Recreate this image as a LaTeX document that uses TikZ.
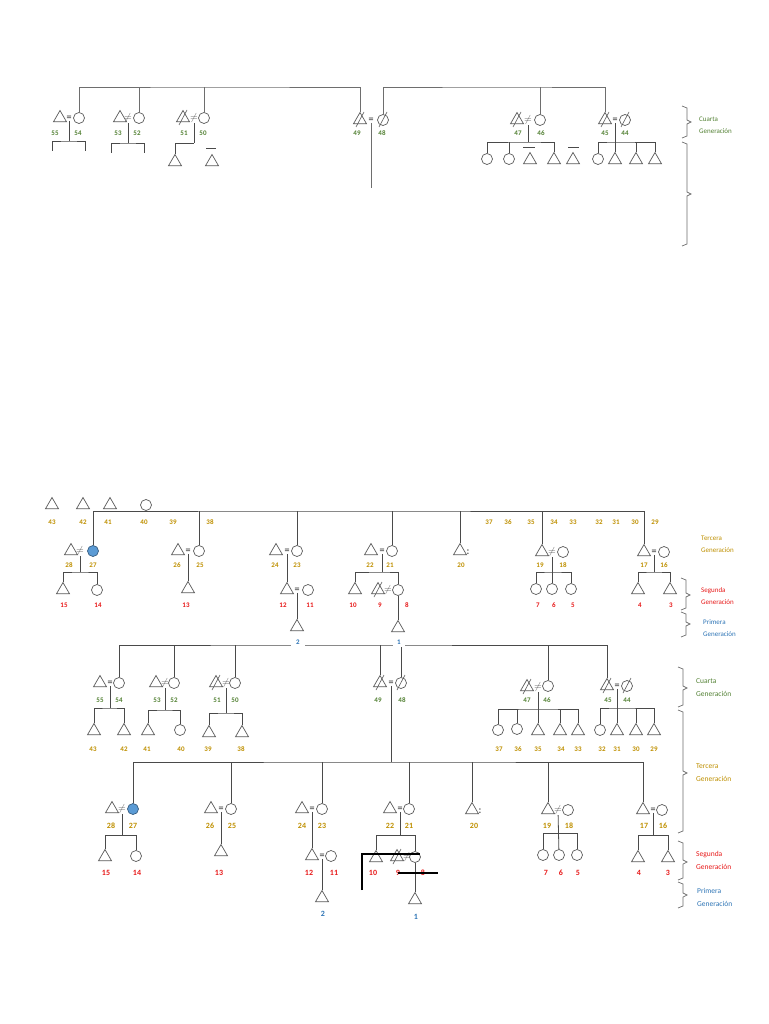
\documentclass[tikz,border=0pt]{standalone}
\usepackage{fontspec}
\setmainfont{Carlito}
\usetikzlibrary{positioning, shapes.geometric, backgrounds}

\definecolor{gen4}{HTML}{548235}
\definecolor{gen3}{HTML}{BF9000}
\definecolor{gen2}{HTML}{E81A1A}
\definecolor{gen1}{HTML}{2E75B6}
\definecolor{symc}{HTML}{5A5A5A}
\definecolor{linc}{HTML}{4A4A4A}
\definecolor{fillb}{HTML}{5B9BD5}

\newcommand\deadmark[1]{\draw[sym] ([shift={(-4,7)}]#1.center) -- ([shift={(4,-8)}]#1.center);}
\newcommand\genbrace[4]{\draw[brc] (#1-5,#2) -- (#1,#2+2) -- (#1,#4-2) -- (#1+4,#4) -- (#1,#4+2) -- (#1,#3-2) -- (#1-5,#3);}

\begin{document}
\begin{tikzpicture}[
  x=1pt, y=-1pt,
  male/.style={regular polygon, regular polygon sides=3, draw=symc, line width=0.7pt, minimum size=15pt, inner sep=0pt},
  fem/.style={circle, draw=symc, line width=0.7pt, minimum size=11pt, inner sep=0pt},
  eqs/.style={inner sep=0.4pt, text=symc, font=\fontsize{10}{10}\selectfont\bfseries},
  num/.style={inner sep=0.5pt, font=\fontsize{7}{8}\selectfont\bfseries},
  numl/.style={inner sep=0.5pt, font=\fontsize{8}{9}\selectfont\bfseries},
  genl/.style={anchor=west, align=left, inner sep=0pt, font=\fontsize{7}{12}\selectfont},
  ln/.style={draw=linc, line width=0.8pt},
  tl/.style={draw=linc!80, line width=0.7pt},
  sym/.style={draw=symc, line width=0.6pt},
  brc/.style={draw=linc!80, line width=0.7pt},
  mk/.style={draw=black, line width=1.1pt},
]
\begin{scope}[on background layer]
  \fill[white] (0,0) rectangle (768,1024);
\end{scope}
\useasboundingbox (0,0) rectangle (768,1024);

% === TOP: fourth generation ===
\node[male] (ma55) at (60,118) {};
\node[eqs] (ea55) at (69,118) {=};
\node[fem] (fa54) at (79,118) {};
\node[male] (ma53) at (120,118) {};
\node[eqs] (ea53) at (128,118) {$\neq$};
\node[fem] (fa52) at (139,118) {};
\node[male] (ma51) at (183,118) {};
\node[eqs] (ea51) at (194,118) {$\neq$};
\node[fem] (fa50) at (204,118) {};
\node[male] (ma49) at (360,120) {};
\node[eqs] (ea49) at (371,120) {=};
\node[fem] (fa48) at (383,120) {};
\node[male] (ma47) at (517,120) {};
\node[eqs] (ea47) at (528,120) {$\neq$};
\node[fem] (fa46) at (540,120) {};
\node[male] (ma45) at (605,120) {};
\node[eqs] (ea45) at (615,120) {=};
\node[fem] (fa44) at (625,120) {};
\deadmark{ma51} \deadmark{ma49} \deadmark{fa48} \deadmark{ma47} \deadmark{ma45} \deadmark{fa44}

\foreach \t/\x in {55/55,54/78,53/118,52/137,51/184,50/203,49/357,48/382,47/518,46/541,45/605,44/625}
  \node[num, text=gen4] (na\t) at (\x,133) {\t};

% children
\node[male] (ca1) at (175,162) {};
\node[male] (ca2) at (212,162) {};
\node[fem] (ca3) at (487,159) {};
\node[fem] (ca4) at (509,159) {};
\node[male] (ca5) at (530,160) {};
\node[male] (ca6) at (554,160) {};
\node[male] (ca7) at (573,160) {};
\node[fem] (ca8) at (598,159) {};
\node[male] (ca9) at (615,160) {};
\node[male] (ca10) at (636,160) {};
\node[male] (ca11) at (655,160) {};

\coordinate (ta1) at (220,87);
\coordinate (ta2) at (500,87);
\draw[tl] (fa54) |- (ta1) -| (ma49);
\draw[tl] (fa52) -- (fa52 |- ta1);
\draw[tl] (fa50) -- (fa50 |- ta1);
\draw[tl] (fa48) |- (ta2) -| (ma45);
\draw[tl] (fa46) -- (fa46 |- ta2);

\coordinate (ba55) at (69,141);
\coordinate (ka1) at (52,151); \coordinate (ka2) at (85,151);
\draw[ln] (ea55) -- (ba55);
\draw[ln] (ka1) |- (ba55) -| (ka2);
\coordinate (ba53) at (128,143);
\coordinate (ka3) at (111,153); \coordinate (ka4) at (144,153);
\draw[ln] (ea53) -- (ba53);
\draw[ln] (ka3) |- (ba53) -| (ka4);
\coordinate (ba51) at (194,143);
\draw[ln] (ea51) -- (ba51);
\draw[ln] (ca1) |- (ba51);
\coordinate (sa1) at (206,148); \coordinate (sa2) at (216,148);
\draw[ln] (sa1) -- (sa2);
\coordinate (la49) at (371,188);
\draw[tl] (ea49) -- (la49);
\coordinate (ba47) at (528,142);
\draw[ln] (ea47) -- (ba47);
\draw[ln] (ca3) |- (ba47) -| (ca6);
\draw[ln] (ca4) -- (ca4 |- ba47);
\coordinate (sa3) at (523,147); \coordinate (sa4) at (535,147);
\coordinate (sa5) at (568,147); \coordinate (sa6) at (579,147);
\draw[ln] (sa3) -- (sa4);
\draw[ln] (sa5) -- (sa6);
\coordinate (ba45) at (615,142);
\draw[ln] (ca8) |- (ba45) -| (ca11);
\draw[ln] (ea45) -- (ca9);
\draw[ln] (ca10) -- (ca10 |- ba45);

\genbrace{687}{106}{138}{122}
\genbrace{687}{142}{246}{194}
\node[genl, text=gen4] (ga4) at (699,125) {Cuarta\\Generación};

% === MIDDLE: third to first generation ===
\node[male] (mb43) at (52,505) {};
\node[male] (mb42) at (83,505) {};
\node[male] (mb41) at (110,505) {};
\node[fem] (fb40) at (146,505) {};

\node[male] (mb28) at (71,551) {};
\node[eqs] (eb28) at (80,551) {$\neq$};
\node[fem, fill=fillb, draw=fillb!60!black] (fb27) at (93,551) {};
\node[male] (mb26) at (178,551) {};
\node[eqs] (eb26) at (188,551) {=};
\node[fem] (fb25) at (199,551) {};
\node[male] (mb24) at (276,551) {};
\node[eqs] (eb24) at (287,551) {=};
\node[fem] (fb23) at (297,551) {};
\node[male] (mb22) at (371,551) {};
\node[eqs] (eb22) at (382,551) {=};
\node[fem] (fb21) at (392,551) {};
\node[male] (mb20) at (460,551) {};
\node[eqs] (cb20) at (468,552) {:};
\node[male] (mb19) at (542,552) {};
\node[eqs] (eb19) at (552,552) {$\neq$};
\node[fem] (fb18) at (563,552) {};
\node[male] (mb17) at (644,552) {};
\node[eqs] (eb17) at (654,552) {=};
\node[fem] (fb16) at (664,552) {};

\node[male] (mb15) at (63,590) {};
\node[fem] (fb14) at (97,590) {};
\node[male] (mb13) at (188,589) {};
\node[male] (mb12) at (287,590) {};
\node[eqs] (eb12) at (297,590) {=};
\node[fem] (fb11) at (308,590) {};
\node[male] (mb10) at (355,590) {};
\node[male] (mb9) at (378,590) {};
\node[eqs] (eb9) at (388,590) {$\neq$};
\node[fem] (fb8) at (398,590) {};
\node[fem] (fb7) at (536,589) {};
\node[fem] (fb6) at (552,589) {};
\node[fem] (fb5) at (571,589) {};
\node[male] (mb4) at (638,590) {};
\node[male] (mb3) at (670,590) {};
\deadmark{mb9}

\node[male] (mb2) at (297,627) {};
\node[male] (mb1) at (398,628) {};

\foreach \t/\x in {43/52,42/83,41/108,40/144,39/173,38/210,37/489,36/508,35/531,34/554,33/573,32/599,31/616,30/635,29/655}
  \node[num, text=gen3] (nb\t) at (\x,522) {\t};
\foreach \t/\x in {28/69,27/93,26/177,25/200,24/275,23/297,22/370,21/390,20/461,19/540,18/563,17/644,16/664}
  \node[num, text=gen3] (nb\t) at (\x,565) {\t};
\foreach \t/\x in {15/64,14/98,13/186,12/283,11/310,10/353,9/380,8/407,7/538,6/554,5/573,4/640,3/671}
  \node[num, text=gen2] (nb\t) at (\x,605) {\t};

\coordinate (tb1) at (300,511);
\draw[ln] (fb27) |- (tb1) -| (mb17);
\draw[ln] (fb25) -- (fb25 |- tb1);
\draw[ln] (fb23) -- (fb23 |- tb1);
\draw[ln] (fb21) -- (fb21 |- tb1);
\draw[ln] (mb20) -- (mb20 |- tb1);
\draw[ln] (mb19) -- (mb19 |- tb1);

\coordinate (bb28) at (80,572);
\draw[ln] (eb28) -- (bb28);
\draw[ln] (mb15) |- (bb28) -| (fb14);
\draw[ln] (eb26) -- (mb13);
\draw[ln] (eb24) -- (mb12);
\draw[ln] (eb12) -- (mb2);
\coordinate (bb22) at (382,572);
\draw[ln] (eb22) -- (bb22);
\draw[ln] (mb10) |- (bb22) -| (fb8);
\draw[ln] (fb8) -- (mb1);
\coordinate (bb19) at (552,572);
\draw[ln] (fb7) |- (bb19) -| (fb5);
\draw[ln] (eb19) -- (fb6);
\coordinate (bb17) at (654,572);
\draw[ln] (eb17) -- (bb17);
\draw[ln] (mb4) |- (bb17) -| (mb3);

\node[genl, text=gen3] (gb3) at (701,544) {Tercera\\Generación};
\genbrace{686}{578}{610}{595}
\genbrace{686}{612}{637}{624}
\node[genl, text=gen2] (gb2) at (701,596) {Segunda\\Generación};
\node[genl, text=gen1] (gb1) at (703,628) {Primera\\Generación};

% === LOWER: fourth to first generation ===
\node[male] (mc55) at (100,683) {};
\node[eqs] (ec55) at (110,683) {=};
\node[fem] (fc54) at (119,683) {};
\node[male] (mc53) at (156,683) {};
\node[eqs] (ec53) at (165,683) {$\neq$};
\node[fem] (fc52) at (174,683) {};
\node[male] (mc51) at (216,683) {};
\node[eqs] (ec51) at (226,683) {$\neq$};
\node[fem] (fc50) at (235,683) {};
\node[male] (mc49) at (380,683) {};
\node[eqs] (ec49) at (391,683) {=};
\node[fem] (fc48) at (401,683) {};
\node[male] (mc47) at (527,687) {};
\node[eqs] (ec47) at (538,687) {$\neq$};
\node[fem] (fc46) at (548,686) {};
\node[male] (mc45) at (607,686) {};
\node[eqs] (ec45) at (617,686) {=};
\node[fem] (fc44) at (627,686) {};
\deadmark{mc51} \deadmark{mc49} \deadmark{fc48} \deadmark{mc47} \deadmark{mc45} \deadmark{fc44}

\node[male] (mc43) at (94,731) {};
\node[male] (mc42) at (124,731) {};
\node[male] (mc41) at (148,731) {};
\node[fem] (fc40) at (180,730) {};
\node[male] (mc39) at (209,733) {};
\node[male] (mc38) at (242,733) {};
\node[fem] (fc37) at (498,730) {};
\node[fem] (fc36) at (517,729) {};
\node[male] (mc35) at (538,731) {};
\node[male] (mc34) at (560,731) {};
\node[male] (mc33) at (578,731) {};
\node[fem] (fc32) at (600,730) {};
\node[male] (mc31) at (617,731) {};
\node[male] (mc30) at (636,731) {};
\node[male] (mc29) at (654,731) {};

\foreach \t/\x in {55/100,54/119,53/157,52/174,51/217,50/235,49/378,48/402,47/527,46/547,45/608,44/627}
  \node[num, text=gen4] (nc\t) at (\x,700) {\t};
\foreach \t/\x in {43/93,42/124,41/147,40/181,39/208,38/241,37/499,36/518,35/538,34/561,33/578,32/602,31/617,30/636,29/654}
  \node[num, text=gen3] (nc\t) at (\x,749) {\t};

\begin{scope}[on background layer]
  \coordinate (tc1) at (300,645);
  \draw[ln] (fc54) |- (tc1) -| (mc45);
  \draw[ln] (fc52) -- (fc52 |- tc1);
  \draw[ln] (fc50) -- (fc50 |- tc1);
  \draw[ln] (mc49) -- (mc49 |- tc1);
  \draw[ln] (fc48) -- (fc48 |- tc1);
  \draw[ln] (fc46) -- (fc46 |- tc1);
\end{scope}
\node[num, text=gen1, fill=white, inner xsep=5pt, inner ysep=3pt] (nb2) at (298,642) {2};
\node[num, text=gen1, fill=white, inner xsep=4pt, inner ysep=3pt] (nb1) at (399,642) {1};

\coordinate (bc55) at (110,708);
\draw[ln] (ec55) -- (bc55);
\draw[ln] (mc43) |- (bc55) -| (mc42);
\coordinate (bc53) at (165,710);
\draw[ln] (ec53) -- (bc53);
\draw[ln] (mc41) |- (bc53) -| (fc40);
\coordinate (bc51) at (226,713);
\draw[ln] (ec51) -- (bc51);
\draw[ln] (mc39) |- (bc51) -| (mc38);
\coordinate (bc47) at (538,709);
\draw[ln] (ec47) -- (mc35);
\draw[ln] (fc37) |- (bc47) -| (mc33);
\draw[ln] (fc36) -- (fc36 |- bc47);
\draw[ln] (mc34) -- (mc34 |- bc47);
\coordinate (bc45) at (617,708);
\draw[ln] (fc32) |- (bc45) -| (mc29);
\draw[ln] (ec45) -- (mc31);
\draw[ln] (mc30) -- (mc30 |- bc45);

% third generation, lower
\node[male] (mc28) at (112,809) {};
\node[eqs] (ec28) at (122,809) {$\neq$};
\node[fem, fill=fillb, draw=fillb!60!black] (fc27) at (133,809) {};
\node[male] (mc26) at (211,809) {};
\node[eqs] (ec26) at (221,809) {=};
\node[fem] (fc25) at (231,809) {};
\node[male] (mc24) at (302,809) {};
\node[eqs] (ec24) at (312,809) {=};
\node[fem] (fc23) at (322,809) {};
\node[male] (mc22) at (390,809) {};
\node[eqs] (ec22) at (400,809) {=};
\node[fem] (fc21) at (409,809) {};
\node[male] (mc20) at (472,810) {};
\node[eqs] (cc20) at (480,811) {:};
\node[male] (mc19) at (548,810) {};
\node[eqs] (ec19) at (558,810) {$\neq$};
\node[fem] (fc18) at (568,810) {};
\node[male] (mc17) at (643,810) {};
\node[eqs] (ec17) at (653,810) {=};
\node[fem] (fc16) at (662,810) {};

\node[male] (mc15) at (105,857) {};
\node[fem] (fc14) at (136,856) {};
\node[male] (mc13) at (221,852) {};
\node[male] (mc12) at (312,856) {};
\node[eqs] (ec12) at (322,856) {=};
\node[fem] (fc11) at (331,856) {};
\node[male] (mc10) at (376,858) {};
\node[male] (mc9) at (397,857) {};
\node[eqs] (ec9) at (407,857) {$\neq$};
\node[fem] (fc8) at (415,857) {};
\node[fem] (fc7) at (543,855) {};
\node[fem] (fc6) at (559,855) {};
\node[fem] (fc5) at (577,855) {};
\node[male] (mc4) at (638,858) {};
\node[male] (mc3) at (668,858) {};
\deadmark{mc9}
\node[male] (mc2) at (322,898) {};
\node[male] (mc1) at (415,900) {};

\foreach \t/\x in {28/111,27/133,26/210,25/232,24/302,23/322,22/390,21/409,20/474,19/547,18/569,17/644,16/663}
  \node[numl, text=gen3] (nc\t) at (\x,826) {\t};
\foreach \t/\x in {15/106,14/137,13/219,12/309,11/334,10/373,9/398,8/423,7/546,6/561,5/578,4/639,3/668}
  \node[numl, text=gen2] (nc\t) at (\x,873) {\t};
\node[numl, text=gen1] (nc2) at (323,914) {2};
\node[numl, text=gen1] (nc1) at (416,917) {1};

\coordinate (tc2) at (391,762);
\draw[ln] (ec49) -- (tc2);
\draw[ln] (fc27) |- (tc2) -| (mc17);
\draw[ln] (fc25) -- (fc25 |- tc2);
\draw[ln] (fc23) -- (fc23 |- tc2);
\draw[ln] (fc21) -- (fc21 |- tc2);
\draw[ln] (mc20) -- (mc20 |- tc2);
\draw[ln] (mc19) -- (mc19 |- tc2);

\coordinate (bc28) at (122,835);
\draw[ln] (ec28) -- (bc28);
\draw[ln] (mc15) |- (bc28) -| (fc14);
\draw[ln] (ec26) -- (mc13);
\draw[ln] (ec24) -- (mc12);
\draw[ln] (ec12) -- (mc2);
\coordinate (bc22) at (400,835);
\draw[ln] (ec22) -- (bc22);
\draw[ln] (mc10) |- (bc22) -| (fc8);
\draw[ln] (fc8) -- (mc1);
\coordinate (bc19) at (559,833);
\draw[ln] (fc7) |- (bc19) -| (fc5);
\draw[ln] (ec19) -- (fc6);
\coordinate (bc17) at (653,835);
\draw[ln] (ec17) -- (bc17);
\draw[ln] (mc4) |- (bc17) -| (mc3);

% stray marks
\coordinate (xa) at (362,890); \coordinate (xb) at (362,854); \coordinate (xc) at (420,854);
\coordinate (xd) at (398,873); \coordinate (xe) at (438,873);
\draw[mk] (xa) -- (xb) -- (xc);
\draw[mk] (xd) -- (xe);

\genbrace{683}{667}{707}{688}
\genbrace{683}{710}{833}{773}
\genbrace{683}{841}{880}{862}
\genbrace{683}{882}{908}{895}
\node[genl, text=gen4, font=\fontsize{7.5}{13}\selectfont] (gc4) at (696,688) {Cuarta\\Generación};
\node[genl, text=gen3, font=\fontsize{7.5}{13}\selectfont] (gc3) at (696,773) {Tercera\\Generación};
\node[genl, text=gen2, font=\fontsize{7.5}{13}\selectfont] (gc2) at (696,860) {Segunda\\Generación};
\node[genl, text=gen1, font=\fontsize{7.5}{13}\selectfont] (gc1) at (697,897) {Primera\\Generación};

\end{tikzpicture}
\end{document}
